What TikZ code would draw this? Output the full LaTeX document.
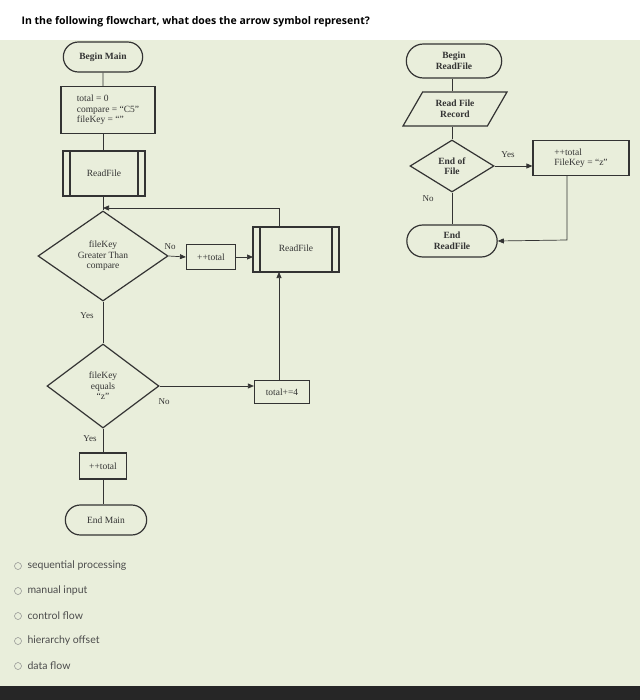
\documentclass[tikz,border=0pt]{standalone}
\usepackage{fontspec}
\setmainfont{Liberation Serif}
\newfontfamily\optf{Lato}
\newfontfamily\titf{Open Sans}
\usetikzlibrary{shapes.geometric,shapes.misc,arrows.meta}
\definecolor{bg}{HTML}{E9EEDB}
\definecolor{ln}{HTML}{333333}
\begin{document}
\begin{tikzpicture}[x=1pt,y=-1pt,
  every node/.style={font=\fontsize{9.5}{10.5}\selectfont, text=ln},
  term/.style={draw=ln, line width=1.2pt, rounded rectangle, minimum width=#1, minimum height=30, align=center},
  proc/.style={draw=ln, line width=1.2pt, rectangle, align=center},
  dec/.style={draw=ln, line width=1.2pt, diamond, aspect=#1, align=center, inner sep=1pt},
  io/.style={draw=ln, line width=1.2pt, trapezium, trapezium left angle=60, trapezium right angle=120, align=center, minimum height=34, minimum width=100},
  ar/.style={draw=ln, line width=0.7pt, -{Triangle[length=6pt,width=5pt]}},
  ln/.style={draw=ln, line width=0.7pt},
  lab/.style={font=\fontsize{9}{10}\selectfont},
  opt/.style={font=\optf\fontsize{10.5}{12}\selectfont, text=black!70, anchor=west}]
\fill[bg] (0,0) rectangle (640,700);
\fill[white] (0,0) rectangle (640,40);
\fill[black!85] (0,686) rectangle (640,700);
\node[anchor=west, font=\titf\bfseries\fontsize{10.5}{12}\selectfont, text=black] (title) at (18,22) {In the following flowchart, what does the arrow symbol represent?};
% Main
\node[term=86] (bm) at (103,57) {\textbf{Begin Main}};
\node[proc, minimum width=94, minimum height=47, align=left] (init) at (108,110) {total = 0\\compare = “C5”\\fileKey = “”};
\draw[draw=ln,line width=1.2pt] (63,151) rectangle (145,196) (70,151)--(70,196) (138,151)--(138,196);
\node (rf1) at (104,173) {ReadFile};
\coordinate (rf1t) at (103,151);
\coordinate (rf1b) at (103,196);
\node[dec=1.45, minimum width=130, minimum height=90] (d1) at (103,256) {fileKey\\Greater Than\\compare};
\node[proc, minimum width=49, minimum height=25] (t1) at (211,257) {++total};
\draw[draw=ln,line width=1.2pt] (253,227) rectangle (339,272) (260,227)--(260,272) (332,227)--(332,272);
\node (rf2) at (296,248) {ReadFile};
\coordinate (rf2t) at (279,227); \coordinate (rf2b) at (279,272); \coordinate (rf2l) at (253,257);
\node[dec=1.35, minimum width=112, minimum height=84] (d2) at (103,386) {fileKey\\equals\\“z”};
\node[proc, minimum width=55, minimum height=23] (t4) at (282,392) {total+=4};
\node[proc, minimum width=47, minimum height=26] (t2) at (103,466) {++total};
\node[term=88] (em) at (106,520) {End Main};
\draw[ln] (bm) -- (bm |- init.north); \draw[ln] (init.south -| bm) -- (rf1t);
\draw[ln] (rf1b) -- (d1.north);
\draw[ar] (rf2t) -- (279,208) -- (d1.north |- 0,208);
\draw[ar] (d1.east) -- (t1.west);
\draw[ar] (t1.east) -- (rf2l);
\draw[ar] (t4.north -| rf2b) -- (rf2b);
\draw[ln] (d1.south) -- (d2.north);
\draw[ar] (d2.east) -- (t4.west |- d2.east);
\draw[ln] (d2.south) -- (t2.north);
\draw[ln] (t2.south) -- (t2.south |- em.north);
\node[lab] (no1) at (170,247) {No};
\node[lab] (y1) at (87,316) {Yes};
\node[lab] (no2) at (164,402) {No};
\node[lab] (y2) at (90,439) {Yes};
% ReadFile
\node[term=102, minimum height=34] (br) at (454,61) {\textbf{Begin}\\\textbf{ReadFile}};
\node[io] (rr) at (455,109) {\textbf{Read File}\\\textbf{Record}};
\node[dec=1.6, minimum width=84, minimum height=52] (d3) at (452,166) {\textbf{End of}\\\textbf{File}};
\node[proc, minimum width=96, minimum height=35, align=left] (bx) at (581,158) {++total\\FileKey = “z”};
\node[term=97, minimum height=32] (er) at (452,241) {\textbf{End}\\\textbf{ReadFile}};
\draw[ln] (br.south -| d3) -- (rr.north -| d3); \draw[ln] (rr.south -| d3) -- (d3);
\draw[ar] (d3.east) -- (bx.west |- d3.east);
\draw[ln] (d3.south) -- (er.north);
\draw[ar] (567,176) -- (567,240) -- (er.east);
\node[lab] (y3) at (508,155) {Yes};
\node[lab] (n3) at (428,199) {No};
% options
\foreach \i/\t in {0/sequential processing,1/manual input,2/control flow,3/hierarchy offset,4/data flow}{
  \draw[black!45, line width=0.5pt] (18,566+25*\i) circle (3.5);
  \node[opt] (o\i) at (24,566+25*\i) {\t};
}
\end{tikzpicture}
\end{document}
